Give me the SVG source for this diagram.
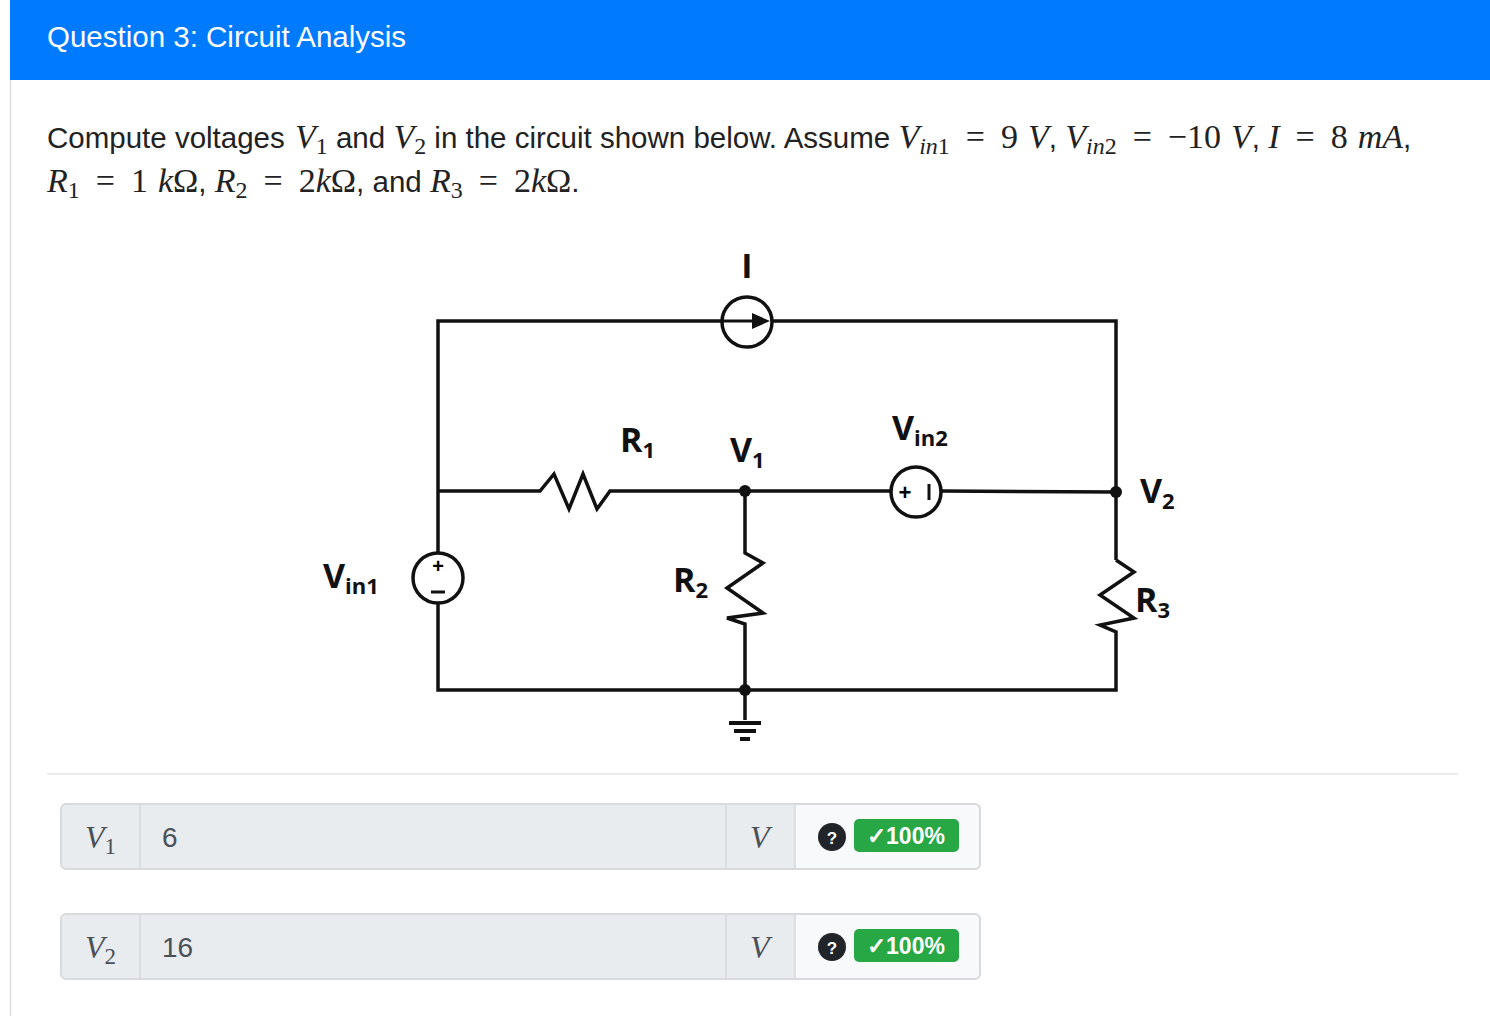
<svg xmlns="http://www.w3.org/2000/svg" width="1490" height="1016" viewBox="0 0 1490 1016">
<style>
.w{fill:none;stroke:#111;stroke-width:3.5;stroke-linejoin:miter}
.lb{font-family:"Open Sans","Liberation Sans",sans-serif;font-weight:bold;font-size:34px;fill:#111}
.sb{font-size:22px}
.t{font-family:"Liberation Sans",Arial,sans-serif;font-size:29.5px;fill:#222}
.m{font-family:"Liberation Serif",serif;font-style:italic;font-size:34px}
.n{font-family:"Liberation Serif",serif;font-style:normal;font-size:34px}
.s{font-size:24px}
.cell{stroke:#d6d8db;stroke-width:1.5}
</style>
<rect width="1490" height="1016" fill="#fff"/>
<g id="header"><rect x="10" y="0" width="1480" height="80" fill="#007bff"/>
<text x="47" y="47" font-family="Liberation Sans,Arial,sans-serif" font-size="29.5" fill="#fff">Question 3: Circuit Analysis</text></g>
<line x1="10.5" y1="80" x2="10.5" y2="1016" stroke="#ddd" stroke-width="1.5"/>
<g id="question">
<text class="t" x="47" y="148">Compute voltages <tspan class="m" dx="2">V</tspan><tspan class="n s" dy="6">1</tspan><tspan dy="-6"> and </tspan><tspan class="m">V</tspan><tspan class="n s" dy="6">2</tspan><tspan dy="-6"> in the circuit shown below. Assume </tspan><tspan class="m">V</tspan><tspan class="m s" dy="6">in</tspan><tspan class="n s">1</tspan><tspan class="n" dy="-6" dx="16">=</tspan><tspan class="n" dx="16">9</tspan><tspan class="m" dx="10">V</tspan><tspan>, </tspan><tspan class="m">V</tspan><tspan class="m s" dy="6">in</tspan><tspan class="n s">2</tspan><tspan class="n" dy="-6" dx="16">=</tspan><tspan class="n" dx="16">−10</tspan><tspan class="m" dx="10">V</tspan><tspan>, </tspan><tspan class="m">I</tspan><tspan class="n" dx="16">=</tspan><tspan class="n" dx="16">8</tspan><tspan class="m" dx="10">mA</tspan><tspan>,</tspan></text>
<text class="t" x="47" y="192"><tspan class="m">R</tspan><tspan class="n s" dy="6">1</tspan><tspan class="n" dy="-6" dx="16">=</tspan><tspan class="n" dx="16">1</tspan><tspan class="m" dx="10">k</tspan><tspan class="n">Ω</tspan><tspan>, </tspan><tspan class="m">R</tspan><tspan class="n s" dy="6">2</tspan><tspan class="n" dy="-6" dx="16">=</tspan><tspan class="n" dx="16">2</tspan><tspan class="m">k</tspan><tspan class="n">Ω</tspan><tspan>, and </tspan><tspan class="m">R</tspan><tspan class="n s" dy="6">3</tspan><tspan class="n" dy="-6" dx="16">=</tspan><tspan class="n" dx="16">2</tspan><tspan class="m">k</tspan><tspan class="n">Ω</tspan><tspan>.</tspan></text>
</g>
<g id="connectors">
<path class="w" d="M438,553 V321 H722 M772,321 H1116 V560 M438,491 H540 L554,474 L569,509 L583,474 L597,509 L610,491 H891 M941,491 L1116,492 M1116,560 L1134,572 L1100,595 L1134,618 L1100,625 L1116,632 V690 H438 V603 M745,491 V553 L763,563 L727,588 L763,613 L727,618 L745,624 V720"/>
<path d="M729,723 H761 M734,731 H756 M740,739 H750" stroke="#111" stroke-width="4"/>
</g>
<g id="I"><circle cx="747" cy="322" r="25" class="w"/><line x1="722" y1="321" x2="755" y2="321" stroke="#111" stroke-width="3"/><path d="M752,313 L770,321 L752,329 Z" fill="#111"/><text class="lb" x="747" y="278" text-anchor="middle">I</text></g>
<g id="Vin1"><circle cx="438" cy="578" r="25" class="w"/><text x="438" y="573" text-anchor="middle" font-family="Liberation Sans,sans-serif" font-weight="bold" font-size="20">+</text><line x1="431" y1="592" x2="445" y2="592" stroke="#111" stroke-width="3"/><text class="lb" x="323" y="588">V<tspan class="sb" dy="6">in1</tspan></text></g>
<g id="Vin2"><circle cx="916" cy="492" r="25" class="w"/><text x="905" y="500" text-anchor="middle" font-family="Liberation Sans,sans-serif" font-weight="bold" font-size="22">+</text><line x1="929" y1="484" x2="929" y2="500" stroke="#111" stroke-width="3"/><text class="lb" x="892" y="440">V<tspan class="sb" dy="6">in2</tspan></text></g>
<g id="V1"><circle cx="745" cy="491" r="6" fill="#111"/><text class="lb" x="730" y="462">V<tspan class="sb" dy="6">1</tspan></text></g>
<g id="V2"><circle cx="1116" cy="492" r="6" fill="#111"/><text class="lb" x="1140" y="503">V<tspan class="sb" dy="6">2</tspan></text></g>
<g id="gnd"><circle cx="745" cy="690" r="6" fill="#111"/></g>
<g id="R1"><text class="lb" x="620" y="452">R<tspan class="sb" dy="6">1</tspan></text></g>
<g id="R2"><text class="lb" x="673" y="592">R<tspan class="sb" dy="6">2</tspan></text></g>
<g id="R3"><text class="lb" x="1135" y="612">R<tspan class="sb" dy="6">3</tspan></text></g>
<line x1="47" y1="774" x2="1458" y2="774" stroke="#e5e5e5" stroke-width="1.5"/>
<g id="ans1">
<rect x="61" y="804" width="919" height="65" rx="5" fill="#f8f9fa" class="cell"/>
<path d="M66,804.75 H795 V868.25 H66 A5,5 0 0 1 61.75,863 V810 A5,5 0 0 1 66,804.75Z" fill="#e9ecef"/>
<rect x="61" y="804" width="919" height="65" rx="5" fill="none" class="cell"/>
<path d="M140,805 V868 M726,805 V868 M795,805 V868" class="cell"/>
<text x="85" y="848" font-family="Liberation Serif,serif" font-style="italic" font-size="32" fill="#495057">V<tspan font-style="normal" font-size="23" dy="6">1</tspan></text>
<text x="162" y="847" font-family="Liberation Sans,sans-serif" font-size="28" fill="#495057">6</text>
<text x="750" y="848" font-family="Liberation Serif,serif" font-style="italic" font-size="32" fill="#495057">V</text>
<circle cx="832" cy="837" r="14" fill="#212529"/><text x="832" y="844" text-anchor="middle" font-family="Liberation Sans,sans-serif" font-weight="bold" font-size="17" fill="#fff">?</text>
<rect x="854" y="819" width="105" height="33" rx="5" fill="#28a745"/><text x="906" y="844" text-anchor="middle" font-family="Liberation Sans,sans-serif" font-weight="bold" font-size="23" fill="#fff">✓100%</text>
</g>
<g id="ans2">
<rect x="61" y="914" width="919" height="65" rx="5" fill="#f8f9fa" class="cell"/>
<path d="M66,914.75 H795 V978.25 H66 A5,5 0 0 1 61.75,973 V920 A5,5 0 0 1 66,914.75Z" fill="#e9ecef"/>
<rect x="61" y="914" width="919" height="65" rx="5" fill="none" class="cell"/>
<path d="M140,915 V978 M726,915 V978 M795,915 V978" class="cell"/>
<text x="85" y="958" font-family="Liberation Serif,serif" font-style="italic" font-size="32" fill="#495057">V<tspan font-style="normal" font-size="23" dy="6">2</tspan></text>
<text x="162" y="957" font-family="Liberation Sans,sans-serif" font-size="28" fill="#495057">16</text>
<text x="750" y="958" font-family="Liberation Serif,serif" font-style="italic" font-size="32" fill="#495057">V</text>
<circle cx="832" cy="947" r="14" fill="#212529"/><text x="832" y="954" text-anchor="middle" font-family="Liberation Sans,sans-serif" font-weight="bold" font-size="17" fill="#fff">?</text>
<rect x="854" y="929" width="105" height="33" rx="5" fill="#28a745"/><text x="906" y="954" text-anchor="middle" font-family="Liberation Sans,sans-serif" font-weight="bold" font-size="23" fill="#fff">✓100%</text>
</g>
</svg>
